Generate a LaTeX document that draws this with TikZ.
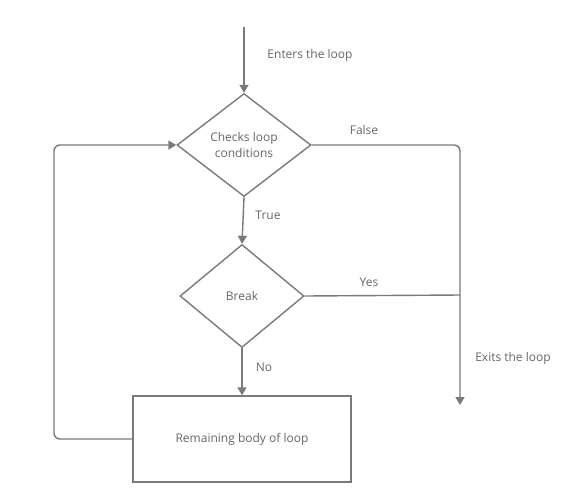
\documentclass[tikz,border=0pt]{standalone}
\usepackage{fontspec}
\setmainfont{Open Sans}
\usetikzlibrary{shapes.geometric, arrows.meta, positioning}

\definecolor{linegray}{HTML}{7A7A7A}
\definecolor{textgray}{HTML}{666666}

\tikzset{
  flowline/.style={draw=linegray, line width=1.4pt},
  flowarrow/.style={flowline, -{Triangle[width=9pt,length=8pt]}},
  decision/.style={diamond, draw=linegray, line width=1.4pt, inner sep=0pt, align=center, text=textgray},
  process/.style={rectangle, draw=linegray, line width=1.4pt, align=center, text=textgray},
  lbl/.style={text=textgray}
}

\begin{document}
\begin{tikzpicture}[x=1pt, y=1pt, font=\fontsize{12}{16}\selectfont]
\useasboundingbox (0,0) rectangle (581,-491);

% Nodes
\node[decision, minimum width=134pt, minimum height=103pt] (check) at (244,-145) {Checks loop\\conditions};
\node[decision, minimum width=124pt, minimum height=103pt] (break) at (242,-296) {Break};
\node[process, minimum width=218pt, minimum height=86pt] (body) at (242,-439) {Remaining body of loop};

\coordinate (start) at (244,-27);
\coordinate (join) at (460,-295);
\coordinate (exit) at (460,-405);

% Connectors
\draw[flowarrow] (start) -- (check.north);
\draw[flowarrow] (check.south) -- (break.north);
\draw[flowarrow] (break.south) -- (body.north);
\draw[flowarrow, rounded corners=6pt] (check.east) -| (exit);
\draw[flowline] (break.east) -- (join);
\draw[flowarrow, rounded corners=6pt] (body.west) -- (54,-439) |- (check.west);

% Labels
\node[lbl] (enters) at (310,-55) {Enters the loop};
\node[lbl] (false) at (364,-130) {False};
\node[lbl] (true) at (268,-215) {True};
\node[lbl] (yes) at (369,-282) {Yes};
\node[lbl] (no) at (264,-367) {No};
\node[lbl] (exits) at (513,-358) {Exits the loop};
\end{tikzpicture}
\end{document}
